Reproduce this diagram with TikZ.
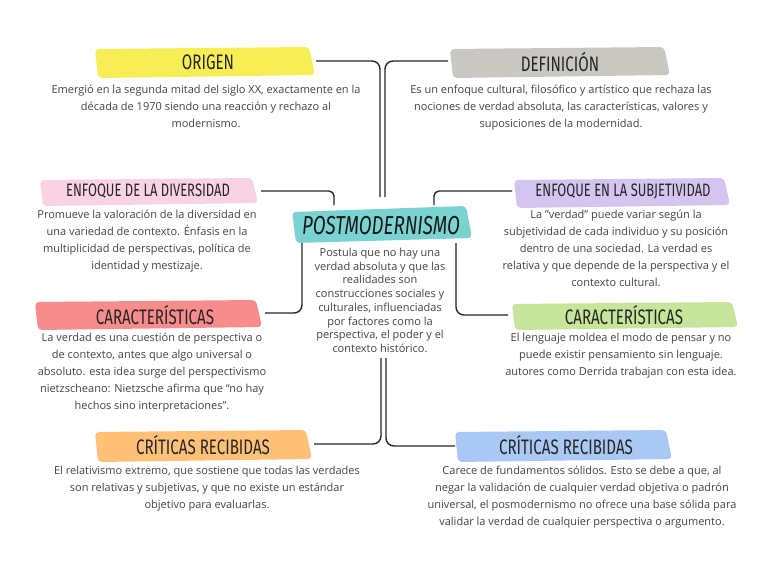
\documentclass[tikz,border=0pt]{standalone}
\usepackage{fontspec}
\setmainfont{Open Sans}
\newfontfamily\headf[FakeStretch=0.72]{Fira Sans}
\usetikzlibrary{calc}
\definecolor{cyel}{HTML}{F7EE55}
\definecolor{cgray}{HTML}{C9C7C1}
\definecolor{cpink}{HTML}{F9D3E3}
\definecolor{clav}{HTML}{D4C5F0}
\definecolor{csal}{HTML}{F88B8B}
\definecolor{cgreen}{HTML}{C7E59A}
\definecolor{corange}{HTML}{FFC178}
\definecolor{cblue}{HTML}{A9C9F4}
\definecolor{cteal}{HTML}{7BD3D1}
\definecolor{ctext}{HTML}{444444}
\tikzset{
 body/.style={align=center,text=ctext,font=\fontsize{11}{17}\selectfont,anchor=north,inner sep=0pt},
 head/.style={text=black!85,font=\headf\fontsize{21}{21}\selectfont},
 conn/.style={line width=1.4pt,rounded corners=8pt,black!85}
}
\newcommand{\brush}[5]{% x1 y1 x2 y2 color
 \fill[#5,rounded corners=4pt] (#1,#2+2) -- (#3-6,#2) -- (#3,#4-3) -- (#1+3,#4) -- cycle;}
\begin{document}
\begin{tikzpicture}[x=1pt,y=-1pt]
\useasboundingbox (0,0) rectangle (768,576);
\fill[white] (0,0) rectangle (768,576);
% connectors
\coordinate (o1) at (316,61); \coordinate (o2) at (380,197);
\draw[conn] (o1) -- (380,61) -- (o2);
\coordinate (d1) at (448,61); \coordinate (d2) at (385,197);
\draw[conn] (d1) -- (385,61) -- (d2);
\coordinate (e1) at (261,191); \coordinate (e2) at (334,205);
\draw[conn,rounded corners=5pt] (e1) -- (334,191) -- (e2);
\coordinate (s1) at (512,191); \coordinate (s2) at (434,205);
\draw[conn,rounded corners=5pt] (s1) -- (434,191) -- (s2);
\coordinate (c1) at (302,243); \coordinate (c2) at (265,313);
\draw[conn] (c1) -- (302,313) -- (c2);
\coordinate (r1) at (456,243); \coordinate (r2) at (508,315);
\draw[conn] (r1) -- (456,315) -- (r2);
\coordinate (k1) at (381,358); \coordinate (k2) at (314,444);
\draw[conn] (k1) -- (381,444) -- (k2);
\coordinate (m1) at (386,358); \coordinate (m2) at (455,446);
\draw[conn] (m1) -- (386,446) -- (m2);
% brushes
\brush{95}{47}{315}{78}{cyel}
\brush{450}{47}{670}{78}{cgray}
\brush{40}{178}{258}{206}{cpink}
\brush{514}{178}{730}{208}{clav}
\brush{35}{300}{262}{330}{csal}
\brush{512}{302}{738}{330}{cgreen}
\brush{95}{430}{312}{462}{corange}
\brush{455}{430}{672}{462}{cblue}
\fill[cteal,rounded corners=4pt] (292,212) -- (466,206) -- (472,238) -- (296,243) -- cycle;
% headings
\node[head] (h1) at (208,62) {ORIGEN};
\node[head] (h2) at (560,62) {DEFINICIÓN};
\node[head,font=\headf\fontsize{18}{18}\selectfont] (h3) at (148,191) {ENFOQUE DE LA DIVERSIDAD};
\node[head,font=\headf\fontsize{18}{18}\selectfont] (h4) at (623,191) {ENFOQUE EN LA SUBJETIVIDAD};
\node[head] (h5) at (155,315) {CARACTERÍSTICAS};
\node[head] (h6) at (624,315) {CARACTERÍSTICAS};
\node[head] (h7) at (203,445) {CRÍTICAS RECIBIDAS};
\node[head] (h8) at (566,445) {CRÍTICAS RECIBIDAS};
\node[text=black!90,font=\headf\itshape\fontsize{26}{26}\selectfont] (pm) at (381,226) {POSTMODERNISMO};
% texts
\node[body] (t1) at (206,85) {Emergió en la segunda mitad del siglo XX, exactamente en la\\década de 1970 siendo una reacción y rechazo al\\modernismo.};
\node[body] (t2) at (561,85) {Es un enfoque cultural, filosófico y artístico que rechaza las\\nociones de verdad absoluta, las características, valores y\\suposiciones de la modernidad.};
\node[body] (t3) at (147,210) {Promueve la valoración de la diversidad en\\una variedad de contexto. Énfasis en la\\multiplicidad de perspectivas, política de\\identidad y mestizaje.};
\node[body] (t4) at (616,210) {La "verdad" puede variar según la\\subjetividad de cada individuo y su posición\\dentro de una sociedad. La verdad es\\relativa y que depende de la perspectiva y el\\contexto cultural.};
\node[body] (t5) at (152,333) {La verdad es una cuestión de perspectiva o\\de contexto, antes que algo universal o\\absoluto. esta idea surge del perspectivismo\\nietzscheano: Nietzsche afirma que “no hay\\hechos sino interpretaciones”.};
\node[body] (t6) at (621,333) {El lenguaje moldea el modo de pensar y no\\puede existir pensamiento sin lenguaje.\\autores como Derrida trabajan con esta idea.};
\node[body] (t7) at (207,466) {El relativismo extremo, que sostiene que todas las verdades\\son relativas y subjetivas, y que no existe un estándar\\objetivo para evaluarlas.};
\node[body] (t8) at (582,466) {Carece de fundamentos sólidos. Esto se debe a que, al\\negar la validación de cualquier verdad objetiva o padrón\\universal, el posmodernismo no ofrece una base sólida para\\validar la verdad de cualquier perspectiva o argumento.};
\node[body,font=\fontsize{11}{13.7}\selectfont] (t9) at (380,248) {Postula que no hay una\\verdad absoluta y que las\\realidades son\\construcciones sociales y\\culturales, influenciadas\\por factores como la\\perspectiva, el poder y el\\contexto histórico.};
\end{tikzpicture}
\end{document}
